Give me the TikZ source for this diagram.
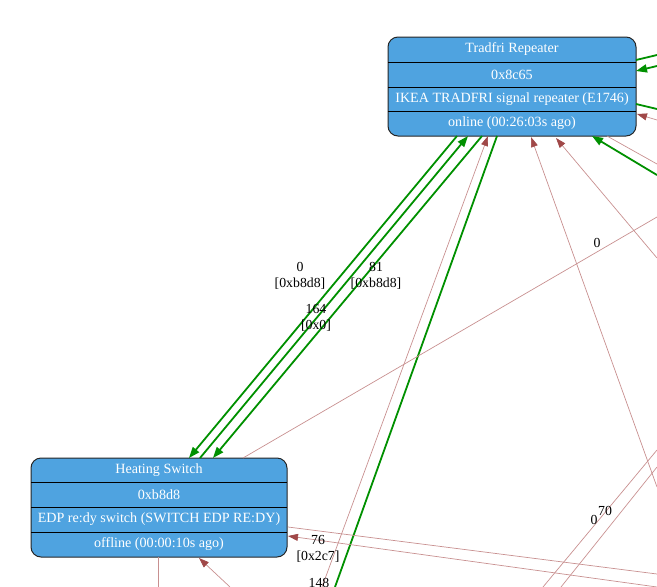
\documentclass[tikz,border=0pt]{standalone}
\usepackage{fontspec}
\setmainfont{Liberation Serif}
\usetikzlibrary{arrows.meta}
\definecolor{nodefill}{HTML}{4FA3E0}
\definecolor{grn}{HTML}{009000}
\definecolor{brn}{HTML}{C89090}
\definecolor{brnhead}{HTML}{A04848}
\tikzset{
  devbox/.style={draw=black!85, line width=1pt, fill=nodefill, rounded corners=10pt},
  rowtxt/.style={text=white, font=\fontsize{14.1}{16}\selectfont, inner sep=0pt},
  grnlink/.style={draw=grn, line width=1.8pt, -{Triangle[length=11pt,width=8pt]}},
  grnplain/.style={draw=grn, line width=1.8pt},
  brnlink/.style={draw=brn, line width=0.7pt, -{Triangle[length=10pt,width=7pt,fill=brnhead,color=brnhead]}},
  brnplain/.style={draw=brn, line width=0.7pt},
  lbl/.style={font=\fontsize{13.8}{16}\selectfont, align=center, inner sep=0pt, text=black}
}
\begin{document}
\begin{tikzpicture}[x=1pt,y=-1pt]
\useasboundingbox (0,0) rectangle (657,587);
% Tradfri Repeater
\draw[devbox] (388,37) rectangle (636,136);
\draw[line width=1pt] (388,62)--(636,62) (388,87)--(636,87) (388,111)--(636,111);
\node[rowtxt] (tr1) at (512,49.5) {Tradfri Repeater};
\node[rowtxt] (tr2) at (512,74.5) {0x8c65};
\node[rowtxt] (tr3) at (512,99) {IKEA TRADFRI signal repeater (E1746)};
\node[rowtxt] (tr4) at (512,123.5) {online (00:26:03s ago)};
% Heating Switch
\draw[devbox] (31,458) rectangle (287,557);
\draw[line width=1pt] (31,482)--(287,482) (31,507)--(287,507) (31,532)--(287,532);
\node[rowtxt] (hs1) at (159,470) {Heating Switch};
\node[rowtxt] (hs2) at (159,494.5) {0xb8d8};
\node[rowtxt] (hs3) at (159,519.5) {EDP re:dy switch (SWITCH EDP RE:DY)};
\node[rowtxt] (hs4) at (159,544.5) {offline (00:00:10s ago)};
% anchor coordinates
\coordinate (tA) at (457,136); \coordinate (hA) at (189,458);
\coordinate (tB) at (468,136); \coordinate (hB) at (200,458);
\coordinate (tC) at (482,136); \coordinate (hC) at (213,458);
\coordinate (tD) at (497,136); \coordinate (oD) at (335,587);
\coordinate (tE) at (488,136); \coordinate (oE) at (322,587);
\coordinate (tF) at (531,137); \coordinate (oF) at (657,487);
\coordinate (tG) at (556,138); \coordinate (oG) at (657,258);
\coordinate (tH) at (592,136); \coordinate (oH) at (657,175);
\coordinate (tI) at (607,136); \coordinate (oI) at (657,164);
\coordinate (tJ) at (636,60); \coordinate (oJ) at (657,55);
\coordinate (tK) at (636,71); \coordinate (oK) at (657,66);
\coordinate (tL) at (636,104); \coordinate (oL) at (657,109);
\coordinate (tM) at (637,114); \coordinate (oM) at (657,120);
\coordinate (hN) at (243,458); \coordinate (oN) at (657,217);
\coordinate (hO) at (288,527); \coordinate (oO) at (657,574);
\coordinate (hP) at (288,536); \coordinate (oP) at (657,587);
\coordinate (hQ) at (158,557); \coordinate (oQ) at (158,587);
\coordinate (hR) at (199,558); \coordinate (oR) at (230,587);
\coordinate (oT1) at (543,587); \coordinate (oT2) at (657,450);
\coordinate (oU1) at (561,587); \coordinate (oU2) at (657,467);
% green links
\draw[grnlink] (tA) -- (hA);
\draw[grnlink] (hB) -- (tB);
\draw[grnlink] (tC) -- (hC);
\draw[grnplain] (tD) -- (oD);
\draw[grnlink] (oH) -- (tH);
\draw[grnplain] (tJ) -- (oJ);
\draw[grnlink] (oK) -- (tK);
\draw[grnplain] (tL) -- (oL);
% brown links
\draw[brnlink] (oE) -- (tE);
\draw[brnlink] (oF) -- (tF);
\draw[brnlink] (oG) -- (tG);
\draw[brnplain] (tI) -- (oI);
\draw[brnlink] (oM) -- (tM);
\draw[brnplain] (hN) -- (oN);
\draw[brnplain] (hO) -- (oO);
\draw[brnlink] (oP) -- (hP);
\draw[brnplain] (hQ) -- (oQ);
\draw[brnlink] (oR) -- (hR);
\draw[brnplain] (oT1) -- (oT2);
\draw[brnplain] (oU1) -- (oU2);
% labels
\node[lbl] (la) at (300,276) {0\\[0pt][0xb8d8]};
\node[lbl] (lc) at (376,276) {81\\[0pt][0xb8d8]};
\node[lbl] (lb) at (316,318) {164\\[0pt][0x0]};
\node[lbl] (ln) at (597,243) {0};
\node[lbl] (lp) at (318,549) {76\\[0pt][0x2c7]};
\node[lbl] (ld) at (319,583) {148};
\node[lbl] (lt) at (594,520) {0};
\node[lbl] (lu) at (605,511) {70};
\end{tikzpicture}
\end{document}
